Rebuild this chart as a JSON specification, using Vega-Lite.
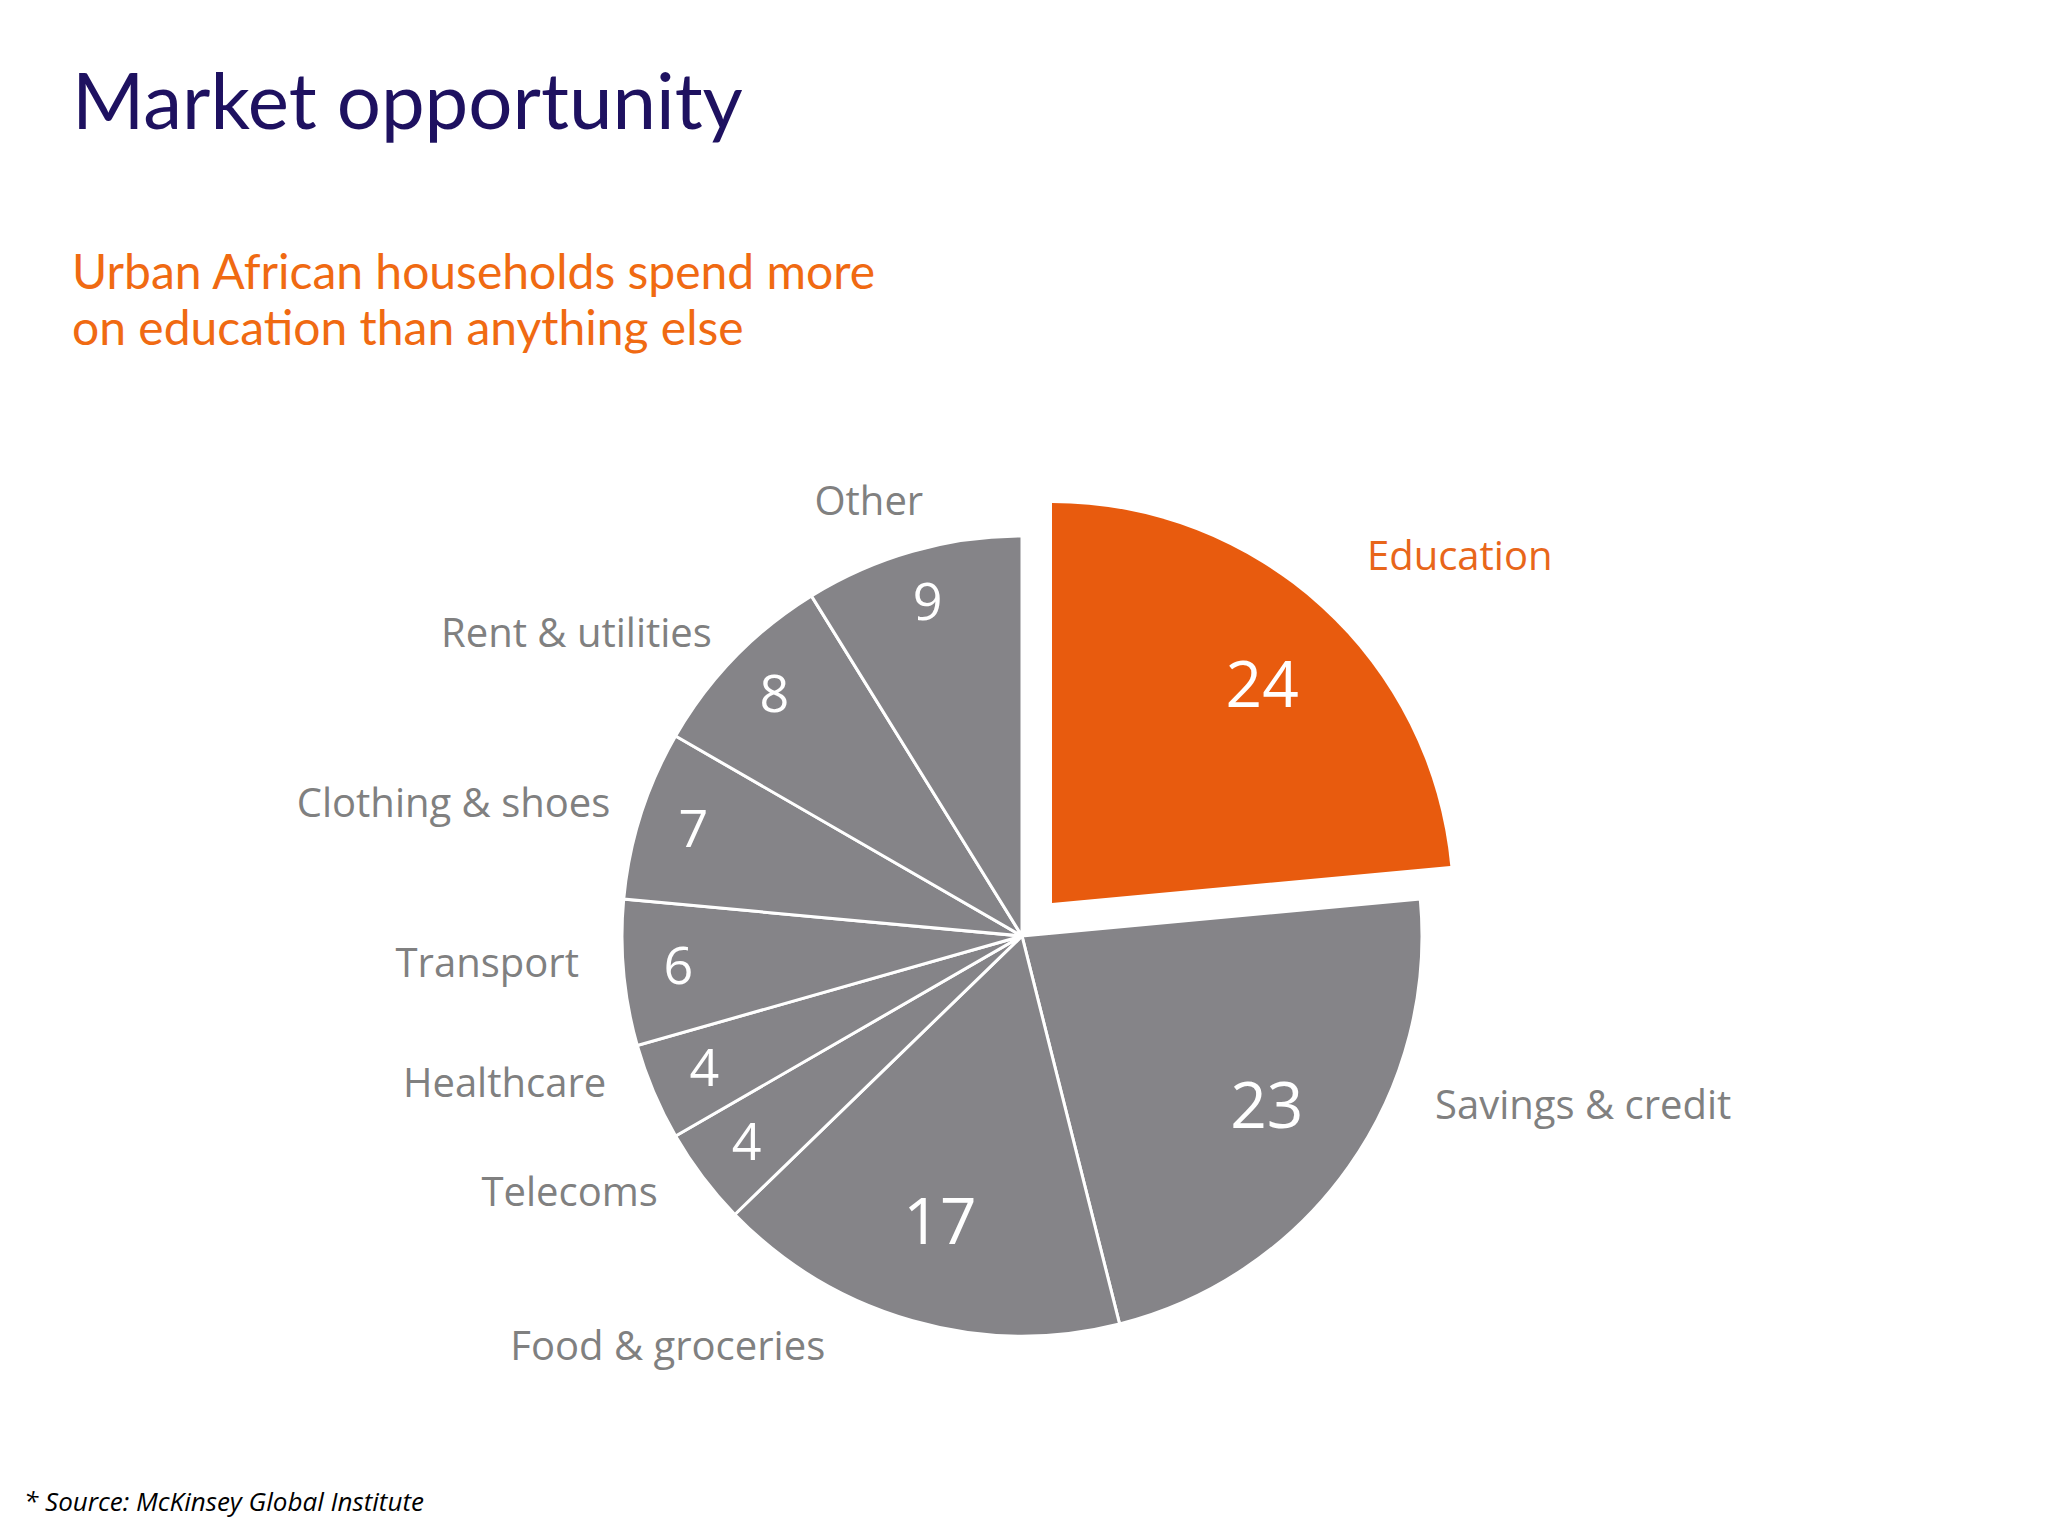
{
  "$schema": "https://vega.github.io/schema/vega-lite/v6.json",
  "background": "white",
  "padding": {"left": 24, "top": 67, "right": 0, "bottom": 12},
  "config": {"view": {"stroke": null}},
  "title": {
    "text": "Market opportunity",
    "subtitle": ["Urban African households spend more", "on education than anything else"],
    "anchor": "start",
    "frame": "group",
    "font": "Lato",
    "fontSize": 78,
    "fontWeight": "normal",
    "color": "#1E1160",
    "subtitleFont": "Lato",
    "subtitleFontSize": 48,
    "subtitleColor": "#F06A12",
    "subtitleLineHeight": 56,
    "subtitlePadding": 106,
    "offset": 44
  },
  "vconcat": [
    {
      "width": 1900,
      "height": 1074,
      "title": {
        "text": "* Source: McKinsey Global Institute",
        "orient": "bottom",
        "anchor": "start",
        "frame": "group",
        "font": "Open Sans",
        "fontStyle": "italic",
        "fontWeight": "normal",
        "fontSize": 26,
        "color": "#000000",
        "dx": -48,
        "offset": 17
      },
      "data": {
        "values": [
          {"order": 1, "category": "Education", "value": 24},
          {"order": 2, "category": "Savings & credit", "value": 23},
          {"order": 3, "category": "Food & groceries", "value": 17},
          {"order": 4, "category": "Telecoms", "value": 4},
          {"order": 5, "category": "Healthcare", "value": 4},
          {"order": 6, "category": "Transport", "value": 6},
          {"order": 7, "category": "Clothing & shoes", "value": 7},
          {"order": 8, "category": "Rent & utilities", "value": 8},
          {"order": 9, "category": "Other", "value": 9}
        ]
      },
      "transform": [
        {"stack": "value", "groupby": [], "sort": [{"field": "order", "order": "ascending"}], "as": ["v0", "v1"]},
        {"calculate": "(datum.v0 + datum.v1) / 2", "as": "mid"}
      ],
      "layer": [
        {
          "transform": [{"filter": "datum.category != 'Education'"}],
          "mark": {"type": "arc", "radius": 400, "fill": "#858488", "stroke": "white", "strokeWidth": 3},
          "encoding": {
            "theta": {"field": "v0", "type": "quantitative", "stack": null, "scale": {"domain": [0, 102], "range": [0, 6.283185307179586]}},
            "theta2": {"field": "v1"}
          }
        },
        {
          "transform": [{"filter": "datum.category == 'Education'"}],
          "mark": {"type": "arc", "radius": 400, "fill": "#E85B0E", "xOffset": 30, "yOffset": -33},
          "encoding": {
            "theta": {"field": "v0", "type": "quantitative", "stack": null},
            "theta2": {"field": "v1"}
          }
        },
        {
          "transform": [{"filter": "datum.value >= 17 && datum.category != 'Education'"}],
          "mark": {"type": "text", "radius": 300, "fontSize": 64, "font": "Open Sans", "color": "white", "align": "center", "baseline": "middle"},
          "encoding": {
            "theta": {"field": "mid", "type": "quantitative", "stack": null},
            "text": {"field": "value", "type": "quantitative"}
          }
        },
        {
          "transform": [{"filter": "datum.category == 'Education'"}],
          "mark": {"type": "text", "radius": 303, "dx": 6, "dy": 9, "fontSize": 64, "font": "Open Sans", "color": "white", "align": "center", "baseline": "middle", "xOffset": 30, "yOffset": -33},
          "encoding": {
            "theta": {"field": "mid", "type": "quantitative", "stack": null},
            "text": {"field": "value", "type": "quantitative"}
          }
        },
        {
          "transform": [{"filter": "datum.value < 17"}],
          "mark": {"type": "text", "radius": 345, "fontSize": 52, "font": "Open Sans", "color": "white", "align": "center", "baseline": "middle"},
          "encoding": {
            "theta": {"field": "mid", "type": "quantitative", "stack": null},
            "text": {"field": "value", "type": "quantitative"}
          }
        },
        {
          "transform": [{"filter": "datum.category == 'Transport'"}],
          "mark": {"type": "text", "radius": 445, "dy": -12, "fontSize": 40, "font": "Open Sans", "color": "#808080", "align": "right", "baseline": "middle"},
          "encoding": {
            "theta": {"field": "mid", "type": "quantitative", "stack": null},
            "text": {"field": "category", "type": "nominal"}
          }
        },
        {
          "transform": [{"filter": "datum.category == 'Healthcare'"}],
          "mark": {"type": "text", "radius": 445, "dx": -6, "dy": -24, "fontSize": 40, "font": "Open Sans", "color": "#808080", "align": "right", "baseline": "middle"},
          "encoding": {
            "theta": {"field": "mid", "type": "quantitative", "stack": null},
            "text": {"field": "category", "type": "nominal"}
          }
        },
        {
          "transform": [{"filter": "datum.category == 'Telecoms'"}],
          "mark": {"type": "text", "radius": 445, "dx": -9, "dy": -10, "fontSize": 40, "font": "Open Sans", "color": "#808080", "align": "right", "baseline": "middle"},
          "encoding": {
            "theta": {"field": "mid", "type": "quantitative", "stack": null},
            "text": {"field": "category", "type": "nominal"}
          }
        },
        {
          "transform": [{"filter": "indexof(['Clothing & shoes','Rent & utilities'], datum.category) >= 0"}],
          "mark": {"type": "text", "radius": 432, "dy": 0, "fontSize": 40, "font": "Open Sans", "color": "#808080", "align": "right", "baseline": "middle"},
          "encoding": {
            "theta": {"field": "mid", "type": "quantitative", "stack": null},
            "text": {"field": "category", "type": "nominal"}
          }
        },
        {
          "transform": [{"filter": "datum.category == 'Food & groceries'"}],
          "mark": {"type": "text", "radius": 445, "dx": -75, "dy": -16, "fontSize": 40, "font": "Open Sans", "color": "#808080", "align": "right", "baseline": "middle"},
          "encoding": {
            "theta": {"field": "mid", "type": "quantitative", "stack": null},
            "text": {"field": "category", "type": "nominal"}
          }
        },
        {
          "transform": [{"filter": "datum.category == 'Other'"}],
          "mark": {"type": "text", "radius": 450, "dx": -30, "fontSize": 40, "font": "Open Sans", "color": "#808080", "align": "center", "baseline": "middle"},
          "encoding": {
            "theta": {"field": "mid", "type": "quantitative", "stack": null},
            "text": {"field": "category", "type": "nominal"}
          }
        },
        {
          "transform": [{"filter": "datum.category == 'Savings & credit'"}],
          "mark": {"type": "text", "radius": 506, "dy": -121, "fontSize": 40, "font": "Open Sans", "color": "#808080", "align": "left", "baseline": "middle"},
          "encoding": {
            "theta": {"field": "mid", "type": "quantitative", "stack": null},
            "text": {"field": "category", "type": "nominal"}
          }
        },
        {
          "transform": [{"filter": "datum.category == 'Education'"}],
          "mark": {"type": "text", "radius": 512, "fontSize": 40, "font": "Open Sans", "color": "#E8661A", "align": "left", "baseline": "middle"},
          "encoding": {
            "theta": {"field": "mid", "type": "quantitative", "stack": null},
            "text": {"field": "category", "type": "nominal"}
          }
        }
      ]
    }
  ]
}
